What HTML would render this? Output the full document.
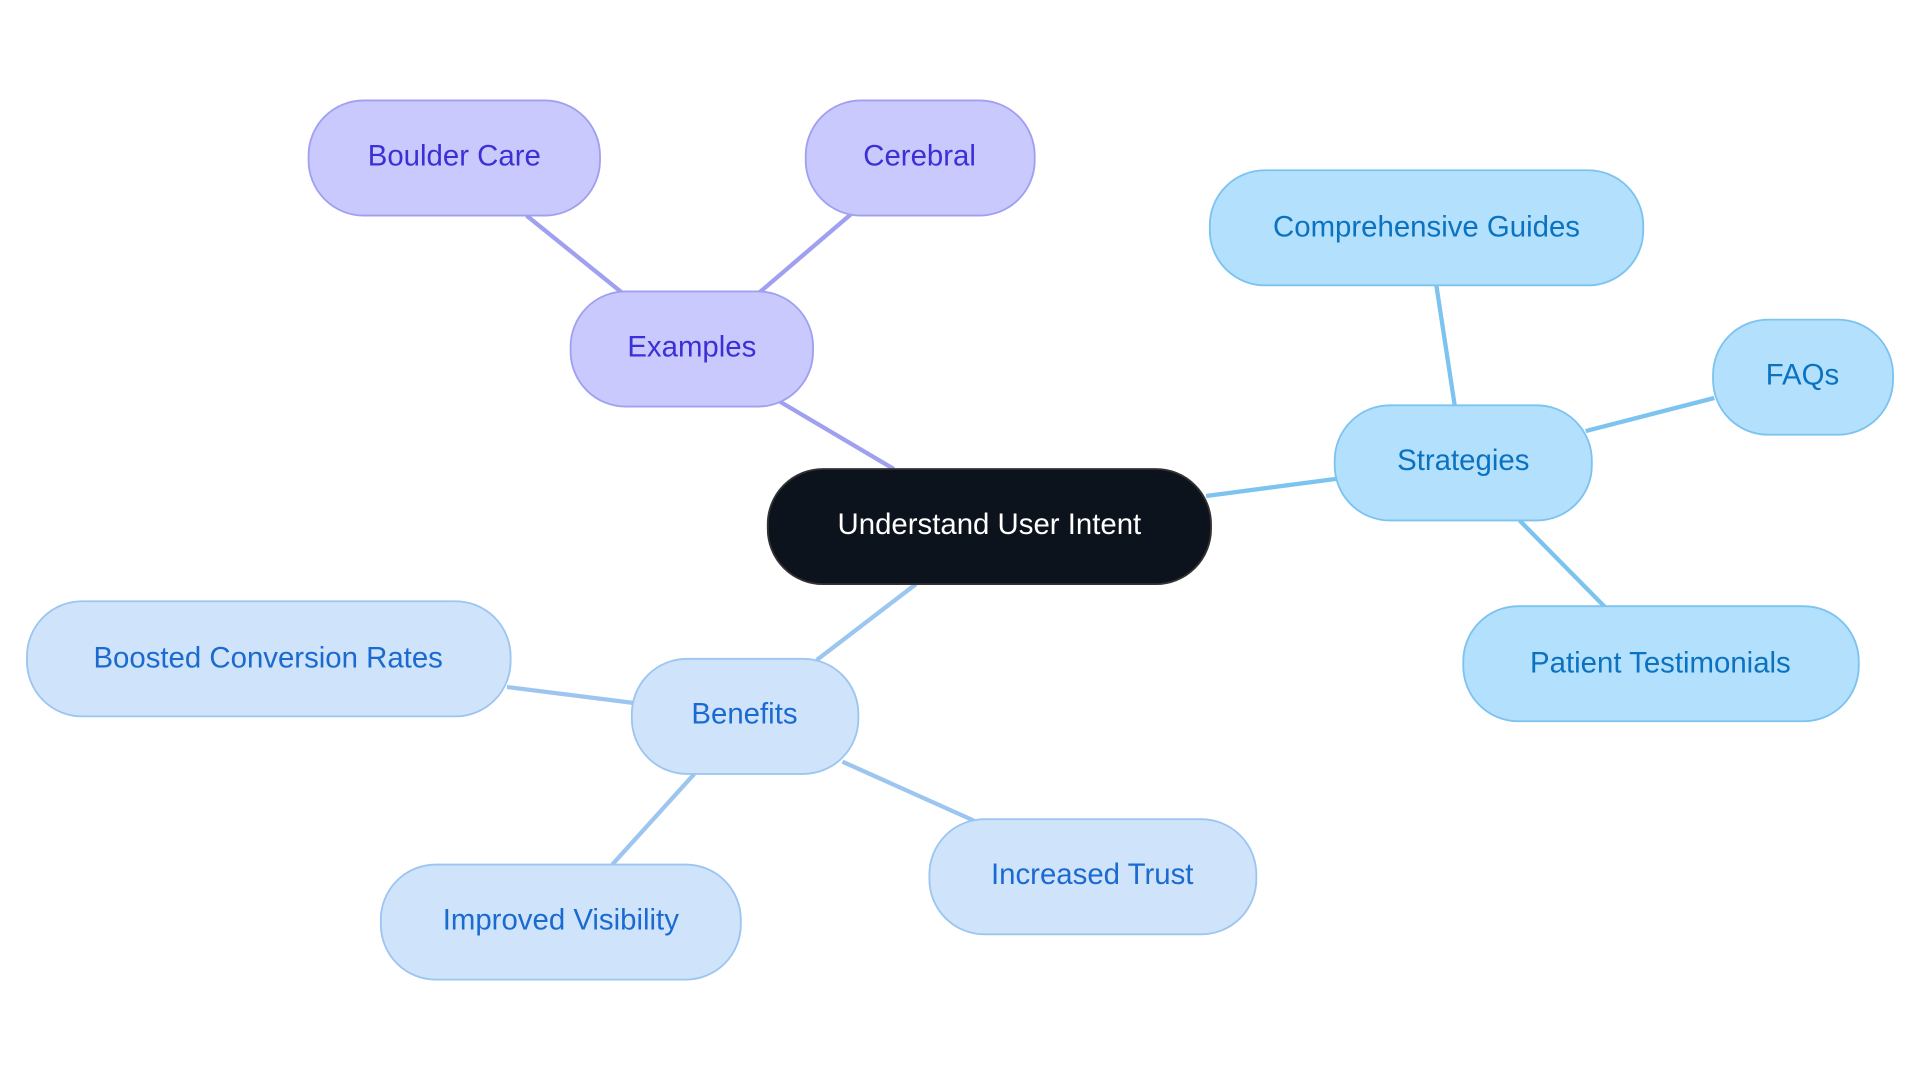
<!DOCTYPE html>
<html><head><meta charset="utf-8"><style>html,body{margin:0;padding:0;background:#fff;}svg{display:block}</style></head>
<body>
<svg width="1920" height="1083" viewBox="0 0 1568 884.4" xmlns="http://www.w3.org/2000/svg" font-family="Liberation Sans, sans-serif" font-size="24" text-anchor="middle">
<g stroke-width="3.5" fill="none">
<line x1="730" y1="383" x2="637" y2="328" stroke="#a0a0f0"/>
<line x1="430" y1="176" x2="508" y2="239" stroke="#a0a0f0"/>
<line x1="696" y1="174" x2="620" y2="239" stroke="#a0a0f0"/>
<line x1="985" y1="405" x2="1092" y2="391" stroke="#7cc3f0"/>
<line x1="1173" y1="233" x2="1188" y2="331" stroke="#7cc3f0"/>
<line x1="1295" y1="352" x2="1400" y2="325" stroke="#7cc3f0"/>
<line x1="1241" y1="425" x2="1311" y2="496" stroke="#7cc3f0"/>
<line x1="748" y1="477" x2="667" y2="539" stroke="#9cc5f0"/>
<line x1="414" y1="561" x2="517" y2="574" stroke="#9cc5f0"/>
<line x1="567" y1="632" x2="500" y2="706" stroke="#9cc5f0"/>
<line x1="688" y1="622" x2="795" y2="670" stroke="#9cc5f0"/>
</g>
<g stroke-width="1.5">
<rect x="627" y="383" width="362" height="94" rx="45" fill="#0d131c" stroke="#333"/>
<rect x="466" y="238" width="198" height="94" rx="45" fill="#c9c9fd" stroke="#a0a0f0"/>
<rect x="252" y="82" width="238" height="94" rx="45" fill="#c9c9fd" stroke="#a0a0f0"/>
<rect x="658" y="82" width="187" height="94" rx="45" fill="#c9c9fd" stroke="#a0a0f0"/>
<rect x="1090" y="331" width="210" height="94" rx="45" fill="#b3e0fd" stroke="#7cc3f0"/>
<rect x="988" y="139" width="354" height="94" rx="45" fill="#b3e0fd" stroke="#7cc3f0"/>
<rect x="1399" y="261" width="147" height="94" rx="45" fill="#b3e0fd" stroke="#7cc3f0"/>
<rect x="1195" y="495" width="323" height="94" rx="45" fill="#b3e0fd" stroke="#7cc3f0"/>
<rect x="516" y="538" width="185" height="94" rx="45" fill="#cfe4fb" stroke="#9cc5f0"/>
<rect x="22" y="491" width="395" height="94" rx="45" fill="#cfe4fb" stroke="#9cc5f0"/>
<rect x="311" y="706" width="294" height="94" rx="45" fill="#cfe4fb" stroke="#9cc5f0"/>
<rect x="759" y="669" width="267" height="94" rx="45" fill="#cfe4fb" stroke="#9cc5f0"/>
</g>
<text x="808" y="436" fill="#ffffff">Understand User Intent</text>
<g fill="#3b2fd6">
<text x="565" y="291">Examples</text>
<text x="371" y="135">Boulder Care</text>
<text x="751" y="135">Cerebral</text>
</g>
<g fill="#0b72c0">
<text x="1195" y="384">Strategies</text>
<text x="1165" y="193">Comprehensive Guides</text>
<text x="1472" y="314">FAQs</text>
<text x="1356" y="549">Patient Testimonials</text>
</g>
<g fill="#1a6ad0">
<text x="608" y="591">Benefits</text>
<text x="219" y="545">Boosted Conversion Rates</text>
<text x="458" y="759">Improved Visibility</text>
<text x="892" y="722">Increased Trust</text>
</g>
</svg>
</body></html>
